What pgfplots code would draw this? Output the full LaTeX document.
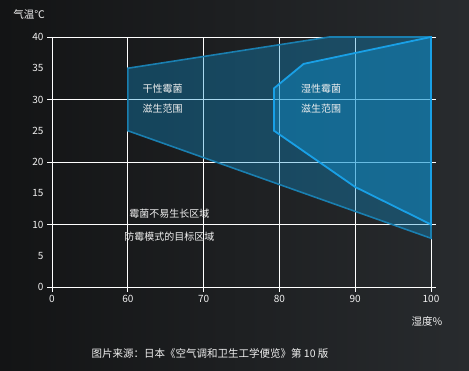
\documentclass[border=0pt]{standalone}
\usepackage{fontspec}
\setmainfont{Noto Sans CJK SC}
\usepackage{pgfplots}
\pgfplotsset{compat=1.18}
\definecolor{bgL}{HTML}{131415}
\definecolor{bgR}{HTML}{282B2E}
\definecolor{mfill}{HTML}{0E94D4}
\definecolor{dryline}{HTML}{1A7FB0}
\definecolor{wetline}{HTML}{19A0E6}
\definecolor{txt}{HTML}{F0F0F0}
\begin{document}
\begin{tikzpicture}[x=1pt,y=1pt]
\shade[left color=bgL,right color=bgR] (0,0) rectangle (469,371);
\begin{axis}[
  at={(52pt,84pt)}, anchor=south west,
  scale only axis, width=384pt, height=250pt,
  xmin=0, xmax=5.066, ymin=0, ymax=40,
  axis line style={draw=none},
  xtick={0,1,2,3,4,5}, xticklabels={0,60,70,80,90,100},
  ytick={0,10,20,30,40},
  extra y ticks={5,15,25,35},
  extra y tick style={grid=none, tick style={draw=none}},
  grid=major,
  major grid style={white, line width=0.9pt},
  tick style={white, line width=0.9pt},
  tick align=outside, major tick length=5pt,
  xtick pos=bottom, ytick pos=left,
  tick label style={txt, font=\fontsize{10}{12}\selectfont},
  /pgf/number format/assume math mode=true,
]
\addplot[draw=dryline, line width=1.6pt, fill=mfill, fill opacity=0.35]
  coordinates {(1,35) (3.66,40) (5,40) (5,7.8) (1,25)} -- cycle;
\addplot[draw=wetline, line width=1.8pt, fill=mfill, fill opacity=0.42]
  coordinates {(5,40) (3.32,35.7) (2.93,31.8) (2.93,25.0) (4,16) (5,10)} -- cycle;
\node[txt, font=\fontsize{10}{12}\selectfont] at (axis cs:1.46,31.8) {干性霉菌};
\node[txt, font=\fontsize{10}{12}\selectfont] at (axis cs:1.46,28.6) {滋生范围};
\node[txt, font=\fontsize{10}{12}\selectfont] at (axis cs:3.55,31.8) {湿性霉菌};
\node[txt, font=\fontsize{10}{12}\selectfont] at (axis cs:3.55,28.6) {滋生范围};
\node[txt, font=\fontsize{10}{12}\selectfont] at (axis cs:1.55,11.7) {霉菌不易生长区域};
\node[txt, font=\fontsize{10}{12}\selectfont] at (axis cs:1.55,8.0) {防霉模式的目标区域};
\end{axis}
\node[txt, font=\fontsize{10.5}{12}\selectfont] at (29,356) {气温℃};
\node[txt, font=\fontsize{10.5}{12}\selectfont] at (427,50) {湿度\%};
\node[txt, font=\fontsize{10.5}{12}\selectfont] at (210,18) {图片来源：日本《空气调和卫生工学便览》第 10 版};
\pgfresetboundingbox
\useasboundingbox (0,0) rectangle (469,371);
\end{tikzpicture}
\end{document}
